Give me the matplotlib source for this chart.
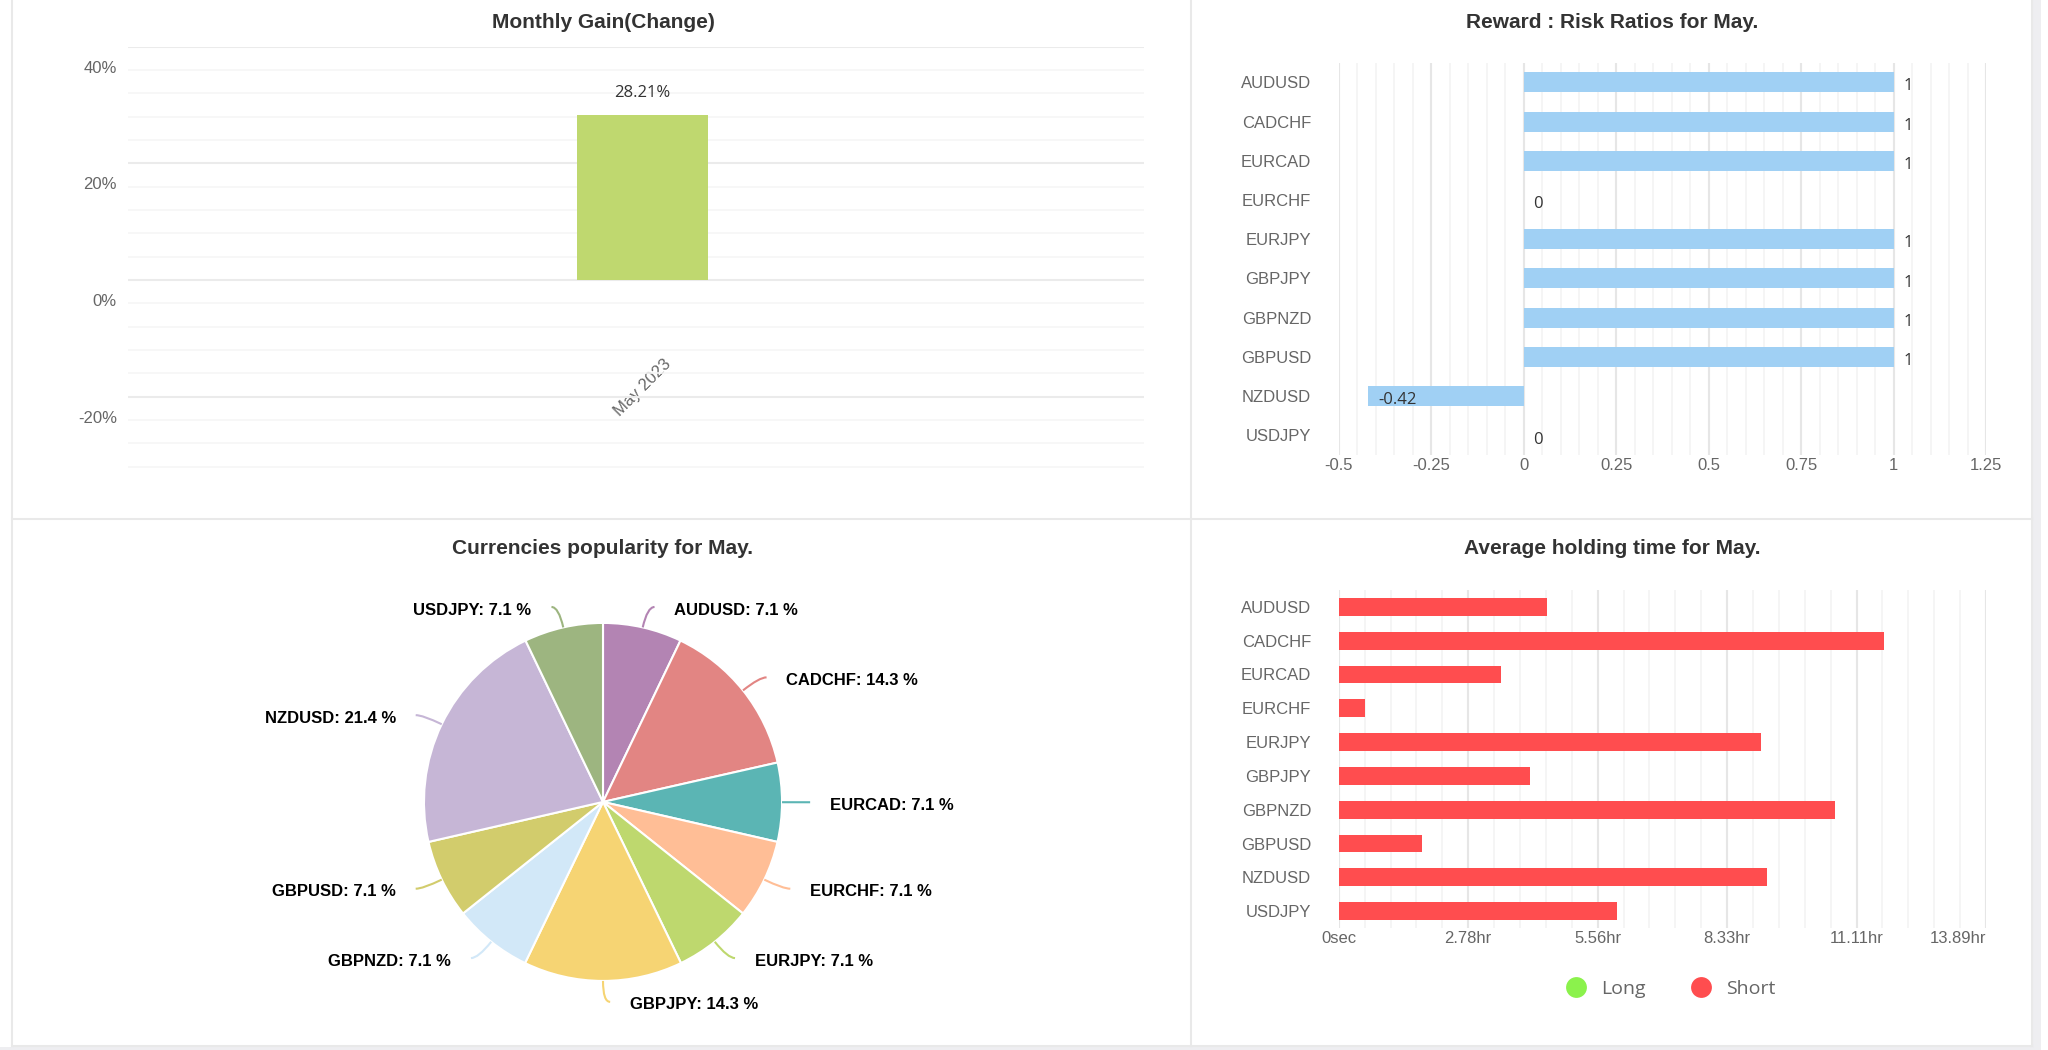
import matplotlib
matplotlib.use("Agg")
import matplotlib.pyplot as plt
import matplotlib.transforms as mtransforms
import numpy as np
from matplotlib.lines import Line2D
from matplotlib.patches import PathPatch, Rectangle
from matplotlib.path import Path
from matplotlib.ticker import MultipleLocator

# ---- data ----
months = ["May 2023"]
monthly_gain = [28.21]  # %

pairs = ["AUDUSD", "CADCHF", "EURCAD", "EURCHF", "EURJPY",
         "GBPJPY", "GBPNZD", "GBPUSD", "NZDUSD", "USDJPY"]
reward_risk = [1, 1, 1, 0, 1, 1, 1, 1, -0.42, 0]
popularity = [7.1, 14.3, 7.1, 7.1, 7.1, 14.3, 7.1, 7.1, 21.4, 7.1]  # %
hold_short_sec = [16100, 42100, 12500, 2000, 32600, 14800, 38300, 6400, 33100, 21500]
hold_ticks_sec = [0, 10000, 20000, 30000, 40000, 50000]

pie_colors = ["#b384b3", "#e28583", "#5bb5b4", "#ffbe96", "#bed86e",
              "#f6d473", "#d2e8f8", "#d2cc6c", "#c6b6d6", "#9db580"]

plt.rcParams["font.family"] = ["Liberation Sans", "DejaVu Sans"]

W, H = 2048, 1050
fig = plt.figure(figsize=(W / 100, H / 100), dpi=100)
fig.patch.set_facecolor("white")

TITLE = dict(fontsize=15, fontweight="bold", color="#333333", ha="center", va="center")
LABEL_FONT = ["Open Sans", "DejaVu Sans"]
GRID = "#e6e6e6"
MINOR = "#f3f3f3"


def px_axes(left, top, right, bottom):
    return fig.add_axes([left / W, 1 - bottom / H, (right - left) / W, (bottom - top) / H])


def fig_line(x0, y0, x1, y1, color="#e9e9e9", lw=1.5):
    fig.add_artist(Line2D([x0 / W, x1 / W], [1 - y0 / H, 1 - y1 / H],
                          transform=fig.transFigure, color=color, lw=lw))


def clean(ax):
    for s in ax.spines.values():
        s.set_visible(False)
    ax.set_axisbelow(True)


# panel frame + shadow
fig.add_artist(Rectangle((2033 / W, 0), 8 / W, 1, transform=fig.transFigure,
                         color="#eeeef1", lw=0))
fig.add_artist(Rectangle((0, 0), 2041 / W, 3 / H, transform=fig.transFigure,
                         color="#eeeef1", lw=0))
fig_line(12, 0, 12, 1046)
fig_line(2032, 0, 2032, 1046)
fig_line(12, 1046, 2032, 1046)
fig_line(1191, 0, 1191, 1046)
fig_line(12, 519, 2032, 519)

# ---- Monthly gain ----
fig.text(603 / W, 1 - 22 / H, "Monthly Gain(Change)", **TITLE)
ax1 = px_axes(128, 46.6, 1144, 470)
xm = np.arange(len(months))
ax1.bar(xm, monthly_gain, width=0.5, color="#bfd86f")
ax1.set_xlim(-1.964, 1.914)
ax1.set_ylim(-32.56, 40)
ax1.set_yticks([-20, 0, 20, 40])
ax1.yaxis.set_major_formatter(lambda v, p: f"{v:.0f}%")
ax1.yaxis.set_minor_locator(MultipleLocator(4))
ax1.grid(axis="y", which="major", color="#ebebeb", lw=1.5)
ax1.grid(axis="y", which="minor", color="#f6f6f6", lw=1.2)
ax1.set_xticks(xm, months, rotation=45)
ax1.tick_params(axis="x", length=0, pad=-82, labelsize=12, labelcolor="#666666")
ax1.tick_params(axis="y", which="both", length=0, pad=8, labelsize=12, labelcolor="#666666")
clean(ax1)
shift = mtransforms.ScaledTranslation(0, -0.2, fig.dpi_scale_trans)
for lab in ax1.get_yticklabels():
    lab.set_transform(lab.get_transform() + shift)
for i, v in zip(xm, monthly_gain):
    ax1.annotate(f"{v:.2f}%", xy=(i, v), xytext=(0, 16), textcoords="offset points",
                 ha="center", va="center", fontsize=12, color="#333333", family=LABEL_FONT)

# ---- Reward : Risk ----
fig.text(1612 / W, 1 - 22 / H, "Reward : Risk Ratios for May.", **TITLE)
ax2 = px_axes(1338.8, 62.7, 1986.2, 455)
yp = np.arange(len(pairs))
ax2.barh(yp, reward_risk, height=0.51, color="#a0d0f4")
ax2.set_xlim(-0.5, 1.25)
ax2.set_ylim(len(pairs) - 0.5, -0.5)
ax2.set_yticks(yp, pairs)
ax2.xaxis.set_major_locator(MultipleLocator(0.25))
ax2.xaxis.set_minor_locator(MultipleLocator(0.05))
ax2.xaxis.set_major_formatter(lambda v, p: f"{v:g}")
ax2.grid(axis="x", which="major", color=GRID, lw=1.5)
ax2.grid(axis="x", which="minor", color=MINOR, lw=1.2)
ax2.tick_params(axis="y", length=0, pad=20, labelsize=12, labelcolor="#666666")
ax2.tick_params(axis="x", which="both", length=0, pad=2, labelsize=12, labelcolor="#666666")
clean(ax2)
for yi, v in zip(yp, reward_risk):
    ax2.annotate(f"{v:g}", xy=(v, yi), xytext=(7, -3), textcoords="offset points",
                 ha="left", va="center", fontsize=12, color="#333333", family=LABEL_FONT)

# ---- Currencies popularity (pie) ----
fig.text(603 / W, 1 - 548 / H, "Currencies popularity for May.", **TITLE)
ax4 = px_axes(253, 590, 953, 1040)
wedges, _ = ax4.pie(popularity, colors=pie_colors, startangle=90, counterclock=False,
                    wedgeprops=dict(edgecolor="white", linewidth=1.5))
ax4.set_aspect("auto")
ax4.set_xlim(-1.955, 1.955)
ax4.set_ylim(-1.330, 1.184)
for w, name, pct, col in zip(wedges, pairs, popularity, pie_colors):
    mid = np.deg2rad((w.theta1 + w.theta2) / 2)
    dx, dy = np.cos(mid), np.sin(mid)
    side = 1 if dx >= -1e-3 else -1
    ax_, ay_ = 1.117 * dx, 1.117 * dy
    path = Path([(1.0 * dx, 1.0 * dy), (ax_, ay_), (ax_ + side * 0.04, ay_)],
                [Path.MOVETO, Path.CURVE3, Path.CURVE3])
    ax4.add_patch(PathPatch(path, fc="none", ec=col, lw=1.5, clip_on=False))
    ax4.text(ax_ + side * 0.151, ay_ - 0.017, f"{name}: {pct} %",
             ha="left" if side > 0 else "right", va="center",
             fontsize=12, fontweight="bold", color="black", clip_on=False)

# ---- Average holding time ----
fig.text(1612 / W, 1 - 548 / H, "Average holding time for May.", **TITLE)
ax3 = px_axes(1338.8, 590, 1986, 928)
ax3.barh(yp, hold_short_sec, height=0.53, color="#ff4d4f")
ax3.set_xlim(hold_ticks_sec[0], hold_ticks_sec[-1])
ax3.set_ylim(len(pairs) - 0.5, -0.5)
ax3.set_yticks(yp, pairs)
hold_labels = ["0sec" if s == 0 else f"{s / 3600:.2f}hr" for s in hold_ticks_sec]
ax3.set_xticks(hold_ticks_sec, hold_labels)
ax3.xaxis.set_minor_locator(MultipleLocator(2000))
ax3.grid(axis="x", which="major", color=GRID, lw=1.5)
ax3.grid(axis="x", which="minor", color=MINOR, lw=1.2)
ax3.tick_params(axis="y", length=0, pad=20, labelsize=12, labelcolor="#666666")
ax3.tick_params(axis="x", which="both", length=0, pad=2, labelsize=12, labelcolor="#666666")
ax3.get_xticklabels()[-1].set_horizontalalignment("right")
clean(ax3)

handles = [
    Line2D([], [], marker="o", ls="none", markersize=15, markerfacecolor="#8bf24c",
           markeredgecolor="none", label="Long"),
    Line2D([], [], marker="o", ls="none", markersize=15, markerfacecolor="#ff4d4f",
           markeredgecolor="none", label="Short"),
]
fig.legend(handles=handles, loc="center", bbox_to_anchor=(1671 / W, 1 - 989 / H),
           ncol=2, frameon=False, handlelength=1.0, handletextpad=0.8,
           columnspacing=2.35, labelcolor="#666666",
           prop=dict(family=LABEL_FONT, size=14))

fig.savefig("out.png", dpi=100, facecolor="white")
